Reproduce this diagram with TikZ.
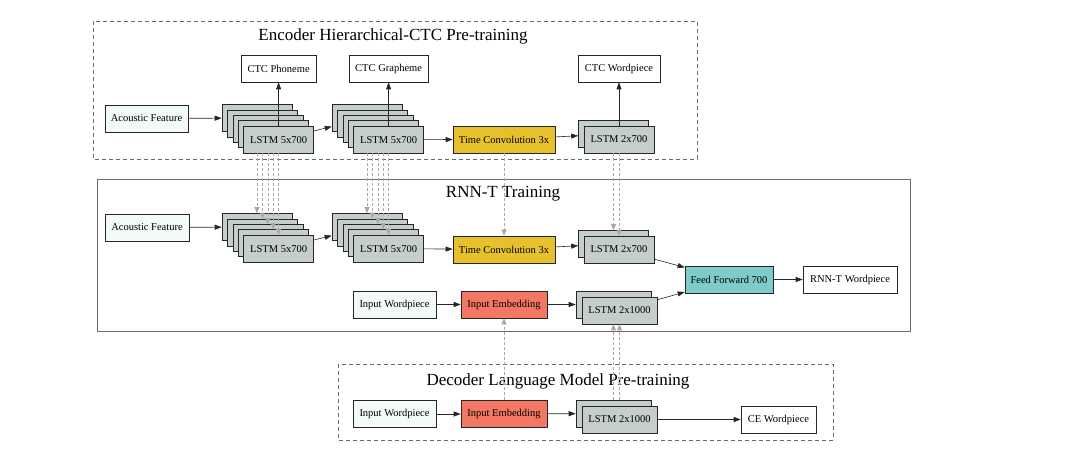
\documentclass[tikz,border=0pt]{standalone}
\usepackage{fontspec}
\setmainfont{Liberation Serif}
\usetikzlibrary{arrows.meta}
\definecolor{lstmgrey}{HTML}{C6CDCD}
\definecolor{featblue}{HTML}{F2FAFA}
\definecolor{convyellow}{HTML}{E6C12C}
\definecolor{embedred}{HTML}{F47763}
\definecolor{ffcyan}{HTML}{7ECBCB}
\definecolor{edgegrey}{HTML}{262626}
\definecolor{sharegrey}{HTML}{A8A8A8}
\definecolor{framegrey}{HTML}{6A6A6A}

\begin{document}
\begin{tikzpicture}[x=1pt,y=-1pt,
  every node/.style={draw=edgegrey,line width=0.6pt,rectangle,minimum height=27pt,inner sep=2pt,font=\fontsize{10.5}{12}\selectfont},
  layer/.style={fill=lstmgrey,minimum width=70pt},
  feat/.style={fill=featblue},
  title/.style={draw=none,font=\fontsize{17}{20}\selectfont},
  flow/.style={-{Triangle[length=7pt,width=5pt]},edgegrey,line width=0.6pt},
  share/.style={-{Triangle[length=6pt,width=5pt]},sharegrey,line width=0.6pt,dash pattern=on 3pt off 2pt}]
  \useasboundingbox (0,0) rectangle (1080,457);

  % frames
  \draw[framegrey,line width=0.8pt,dash pattern=on 4pt off 3pt] (93,21) rectangle (697,159);
  \draw[framegrey,line width=0.8pt] (97,179) rectangle (910,331);
  \draw[framegrey,line width=0.8pt,dash pattern=on 4pt off 3pt] (338,364) rectangle (833,440);
  \node[title] (encT) at (393,36) {Encoder Hierarchical-CTC Pre-training};
  \node[title] (rnnT) at (503,194) {RNN-T Training};
  \node[title] (decT) at (558,381) {Decoder Language Model Pre-training};

  % encoder
  \node[feat,minimum width=83pt] (encAF) at (146.5,118.5) {Acoustic Feature};
  \foreach \i in {0,...,3} \node[layer] (e1-\i) at (257+5.4*\i,118+5.4*\i) {};
  \node[layer] (e1-4) at (278.6,139.6) {LSTM 5x700};
  \foreach \i in {0,...,3} \node[layer] (e2-\i) at (367+5.4*\i,118+5.4*\i) {};
  \node[layer] (e2-4) at (388.6,139.6) {LSTM 5x700};
  \node[fill=convyellow,minimum width=102pt] (encTC) at (504,139.5) {Time Convolution 3x};
  \node[layer] (e3-0) at (613.5,134) {};
  \node[layer] (e3-1) at (619,139.5) {LSTM 2x700};
  \node[minimum width=75pt] (ctcPh) at (278.6,68.5) {CTC Phoneme};
  \node[minimum width=79pt] (ctcGr) at (388.6,68.5) {CTC Grapheme};
  \node[minimum width=82pt] (ctcWp) at (619,68.5) {CTC Wordpiece};

  \draw[flow] (encAF) -- (e1-0);
  \draw[flow] (e1-4) -- (e2-0);
  \draw[flow] (e1-4) -- (ctcPh);
  \draw[flow] (e2-4) -- (encTC);
  \draw[flow] (e2-4) -- (ctcGr);
  \draw[flow] (encTC) -- (e3-0);
  \draw[flow] (e3-1) -- (ctcWp);

  % rnn-t
  \node[feat,minimum width=84pt] (rnnAF) at (147,227.5) {Acoustic Feature};
  \foreach \i in {0,...,3} \node[layer] (r1-\i) at (257+5.4*\i,227+5.4*\i) {};
  \node[layer] (r1-4) at (278.6,248.6) {LSTM 5x700};
  \foreach \i in {0,...,3} \node[layer] (r2-\i) at (367+5.4*\i,227+5.4*\i) {};
  \node[layer] (r2-4) at (388.6,248.6) {LSTM 5x700};
  \node[fill=convyellow,minimum width=102pt] (rnnTC) at (504,249.5) {Time Convolution 3x};
  \node[layer] (r3-0) at (613.5,244) {};
  \node[layer] (r3-1) at (619,249.5) {LSTM 2x700};
  \node[feat,minimum width=83pt] (rnnIW) at (394.5,304.5) {Input Wordpiece};
  \node[fill=embedred,minimum width=86pt] (rnnIE) at (504,304.5) {Input Embedding};
  \node[layer,minimum width=75pt] (r4-0) at (613.5,304.5) {};
  \node[layer,minimum width=75pt] (r4-1) at (619.5,310.5) {LSTM 2x1000};
  \node[fill=ffcyan,minimum width=88pt] (ff) at (729,279.5) {Feed Forward 700};
  \node[minimum width=94pt] (rnnWp) at (850,279.5) {RNN-T Wordpiece};

  \draw[flow] (rnnAF) -- (r1-0);
  \draw[flow] (r1-4) -- (r2-0);
  \draw[flow] (r2-4) -- (rnnTC);
  \draw[flow] (rnnTC) -- (r3-0);
  \draw[flow] (rnnIW) -- (rnnIE);
  \draw[flow] (rnnIE) -- (r4-0);
  \draw[flow] (r3-1) -- (ff);
  \draw[flow] (r4-1) -- (ff);
  \draw[flow] (ff) -- (rnnWp);

  % decoder
  \node[feat,minimum width=83pt] (decIW) at (394.5,414) {Input Wordpiece};
  \node[fill=embedred,minimum width=86pt] (decIE) at (504,414) {Input Embedding};
  \node[layer,minimum width=75pt] (d4-0) at (613.5,413.5) {};
  \node[layer,minimum width=75pt] (d4-1) at (619.5,419.5) {LSTM 2x1000};
  \node[minimum width=75pt] (ceWp) at (778.5,419.5) {CE Wordpiece};

  \draw[flow] (decIW) -- (decIE);
  \draw[flow] (decIE) -- (d4-0);
  \draw[flow] (d4-1) -- (ceWp);

  % shared weights
  \foreach \i in {0,...,4} \draw[share] (e1-\i |- e1-4.south) -- (r1-\i);
  \foreach \i in {0,...,4} \draw[share] (e2-\i |- e2-4.south) -- (r2-\i);
  \foreach \i in {0,1} \draw[share] (e3-\i |- e3-1.south) -- (r3-\i);
  \draw[share] (encTC) -- (rnnTC);
  \draw[share] (decIE) -- (rnnIE);
  \foreach \i in {0,1} \draw[share] (d4-\i |- d4-0.north) -- (r4-\i |- r4-1.south);
\end{tikzpicture}
\end{document}
